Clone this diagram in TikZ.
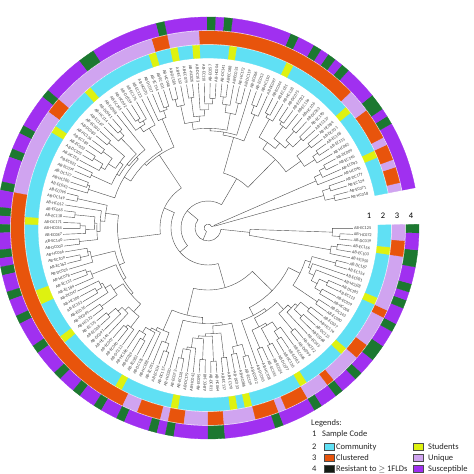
\documentclass[tikz,border=0pt]{standalone}
\usepackage{fontspec}
\setmainfont{Carlito}
\definecolor{cC}{RGB}{96,224,244}
\definecolor{cY}{RGB}{222,242,16}
\definecolor{cP}{RGB}{208,164,240}
\definecolor{cO}{RGB}{232,84,12}
\definecolor{cV}{RGB}{160,48,240}
\definecolor{cG}{RGB}{28,120,48}
\definecolor{cK}{RGB}{20,28,20}
\tikzset{
  treeline/.style={draw=black!70,line width=0.4pt},
  leaflab/.style={font=\fontsize{4.3}{4.5}\selectfont,text=black!75,inner sep=0pt},
  legtext/.style={font=\fontsize{8.5}{9}\selectfont,text=black!85,inner sep=0pt,anchor=west},
  legbox/.style={draw=black!70,line width=0.5pt,minimum width=10pt,minimum height=6.5pt,inner sep=0pt},
  numlab/.style={font=\fontsize{8.5}{9}\selectfont,text=black,inner sep=0pt}
}
\newcommand\mkjoin[4]{%
  \edef\jaA{\csname trA:#2\endcsname}%
  \edef\jaB{\csname trA:#3\endcsname}%
  \edef\jrA{\csname trR:#2\endcsname}%
  \edef\jrB{\csname trR:#3\endcsname}%
  \draw[treeline] (\jaA:\jrA pt) -- (\jaA:#4 pt) arc[start angle=\jaA,end angle=\jaB,radius=#4 pt] -- (\jaB:\jrB pt);%
  \pgfmathsetmacro\jaM{(\jaA+\jaB)/2}%
  \expandafter\xdef\csname trA:#1\endcsname{\jaM}%
  \expandafter\xdef\csname trR:#1\endcsname{#4}}
\newcommand\genjoin[4]{%
  \pgfmathsetmacro\gsz{#4-#1+1}%
  \edef\grA{\csname trR:#1-#2\endcsname}%
  \edef\grB{\csname trR:#3-#4\endcsname}%
  \pgfmathsetmacro\grr{min(142-16*ln(\gsz)+6*rnd-3,min(\grA,\grB)-2.5)}%
  \edef\gtmp{\noexpand\mkjoin{#1-#4}{#1-#2}{#3-#4}{\grr}}\gtmp}
\newcommand\gen[2]{%
  \ifnum#1<#2\relax
    \begingroup
      \pgfmathtruncatemacro\tgm{min(#1+floor(rnd*(#2-#1)),#2-1)}%
      \pgfmathtruncatemacro\tgmm{\tgm+1}%
      \edef\x{\endgroup\noexpand\gen{#1}{\tgm}\noexpand\gen{\tgmm}{#2}\noexpand\genjoin{#1}{\tgm}{\tgmm}{#2}}%
    \expandafter\x
  \fi}
\newcount\ringpos
\newcommand\ringdraw[3]{%
  \global\ringpos=0
  \foreach \rc/\rn in {#3}{%
    \pgfmathsetmacro\aS{11+2.33333*\the\ringpos}%
    \global\advance\ringpos by \rn\relax
    \pgfmathsetmacro\aE{11+2.33333*\the\ringpos}%
    \filldraw[fill=\rc,draw=\rc,line width=0.3pt] (\aS:#1 pt) arc[start angle=\aS,end angle=\aE,radius=#1 pt] -- (\aE:#2 pt) arc[start angle=\aE,end angle=\aS,radius=#2 pt] -- cycle;%
  }}
\begin{document}
\begin{tikzpicture}[x=1pt,y=1pt]
\useasboundingbox (0,0) rectangle (474,474);
\fill[white] (0,0) rectangle (474,474);
\begin{scope}[shift={(208,246)}]
  \pgfmathsetseed{11}
  % leaves
  \foreach \i in {0,...,149}{%
    \pgfmathsetmacro\la{12.16667+2.33333*\i}%
    \expandafter\xdef\csname trA:\i-\i\endcsname{\la}%
    \expandafter\xdef\csname trR:\i-\i\endcsname{145}%
  }
  % tree
  \gen{0}{3}\gen{4}{7}\mkjoin{0-7}{0-3}{4-7}{7}
  \gen{8}{22}\gen{23}{40}\mkjoin{8-40}{8-22}{23-40}{57}
  \gen{41}{65}\gen{66}{95}\mkjoin{41-95}{41-65}{66-95}{48}
  \gen{96}{118}\gen{119}{143}\mkjoin{96-143}{96-118}{119-143}{62}
  \mkjoin{41-143}{41-95}{96-143}{37}
  \mkjoin{8-143}{8-40}{41-143}{27}
  \gen{144}{146}\gen{147}{149}\mkjoin{144-149}{144-146}{147-149}{42}
  \mkjoin{8-149}{8-143}{144-149}{13}
  \mkjoin{0-149}{0-7}{8-149}{4}
  % leaf labels
  \foreach \i in {0,...,149}{%
    \pgfmathsetmacro\la{12.16667+2.33333*\i}%
    \pgfmathtruncatemacro\lp{mod(\i*7+1,4)}%
    \pgfmathtruncatemacro\lnum{mod(\i*53+17,190)+1}%
    \def\lanc{west}\pgfmathsetmacro\lrot{\la}%
    \ifdim\la pt>90pt \ifdim\la pt<270pt \def\lanc{east}\pgfmathsetmacro\lrot{\la-180}\fi\fi
    \node[leaflab,anchor=\lanc,rotate=\lrot] (lab\i) at (\la:146pt)
      {AB-\ifcase\lp EC\or HC\or DC\else EC\fi\ifnum\lnum<10 00\else\ifnum\lnum<100 0\fi\fi\lnum};
  }
  % ring 2
  \ringdraw{170}{183}{cC/5,cY/1,cC/6,cY/1,cC/9,cY/1,cC/7,cY/1,cC/4,cY/1,cC/2,cY/1,cC/2,cY/1,cC/9,cY/1,cC/6,cY/1,cC/12,cY/1,cC/9,cY/2,cC/5,cY/1,cC/9,cY/1,cC/7,cY/1,cC/7,cY/1,cC/1,cY/1,cC/7,cY/1,cC/6,cY/1,cC/7,cY/1,cC/6,cY/1,cC/3}
  % ring 3
  \ringdraw{184}{197}{cP/1,cO/2,cP/1,cO/2,cP/1,cO/4,cP/3,cO/21,cP/4,cO/2,cP/14,cO/2,cP/11,cO/32,cP/2,cO/3,cP/1,cO/2,cP/3,cO/2,cP/4,cO/3,cP/1,cO/3,cP/3,cO/1,cP/4,cO/2,cP/4,cO/1,cP/7,cO/2,cP/2}
  % ring 4
  \ringdraw{198}{211}{cV/8,cG/1,cV/1,cG/2,cV/4,cG/1,cV/1,cG/1,cV/1,cG/1,cV/2,cG/1,cV/7,cG/1,cV/1,cG/1,cV/5,cG/1,cV/8,cG/2,cV/5,cG/1,cV/4,cG/1,cV/2,cG/1,cV/3,cG/1,cV/2,cG/1,cV/1,cG/1,cV/2,cG/1,cV/1,cG/1,cV/2,cG/1,cV/2,cG/1,cV/3,cG/1,cV/3,cG/1,cV/2,cG/1,cV/2,cG/1,cV/2,cG/1,cV/3,cG/1,cV/1,cG/1,cV/4,cG/2,cV/6,cG/1,cV/4,cG/1,cV/2,cG/1,cV/2,cG/1,cV/2,cG/2,cV/2,cG/1,cV/2,cG/1,cV/1,cG/1,cV/2,cG/2,cV/2,cG/1}
\end{scope}
% ring headers
\node[numlab] (h1) at (369,258) {1};
\node[numlab] (h2) at (383,258) {2};
\node[numlab] (h3) at (397,258) {3};
\node[numlab] (h4) at (411,258) {4};
% legend
\node[legtext] (leg) at (311,51) {Legends:};
\node[legtext] (n1) at (312,40) {1};
\node[legtext] (t1) at (322,40) {Sample Code};
\node[legtext] (n2) at (312,27) {2};
\node[legbox,fill=cC] (b2) at (329,27) {};
\node[legtext] (t2) at (336,27) {Community};
\node[legtext] (n3) at (312,16) {3};
\node[legbox,fill=cO] (b3) at (329,16) {};
\node[legtext] (t3) at (336,16) {Clustered};
\node[legtext] (n4) at (312,5) {4};
\node[legbox,fill=cK] (b4) at (329,5) {};
\node[legtext] (t4) at (336,5) {Resistant to $\geq$ 1FLDs};
\node[legbox,fill=cY] (b5) at (418,27) {};
\node[legtext] (t5) at (428,27) {Students};
\node[legbox,fill=cP] (b6) at (418,16) {};
\node[legtext] (t6) at (428,16) {Unique};
\node[legbox,fill=cV] (b7) at (418,5) {};
\node[legtext] (t7) at (428,5) {Susceptible};
\end{tikzpicture}
\end{document}
